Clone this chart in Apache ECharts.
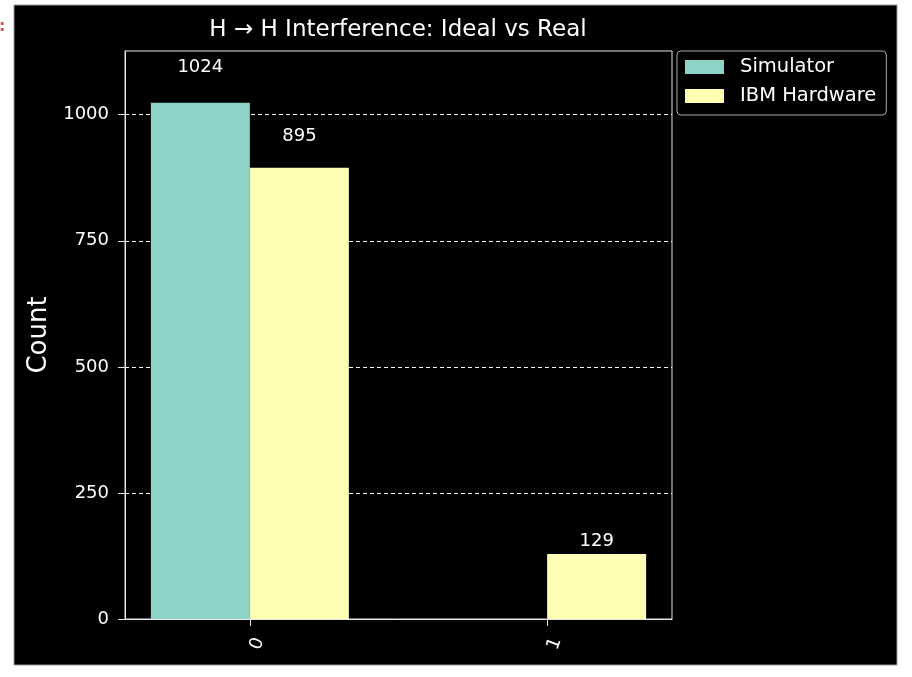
<!DOCTYPE html>
<html>
<head>
<meta charset="utf-8">
<script src="https://cdn.jsdelivr.net/npm/echarts@6/dist/echarts.min.js"></script>
<style>
  html, body { margin: 0; padding: 0; background: #fff; }
  #chart { width: 912px; height: 677px; }
</style>
</head>
<body>
<div id="chart"></div>
<script>
// data
const categories = ['0', '1'];
const simulatorCounts = [1024, null];
const hardwareCounts = [895, 129];
const seriesNames = ['Simulator', 'IBM Hardware'];
const yTicks = [0, 250, 500, 750, 1000];

const FONT = 'DejaVu Sans';
const BAR_W = 1 / 3;     // bar width in category units, like the qiskit histogram

const chart = echarts.init(document.getElementById('chart'));

function toPoints(values) {
    return values.map(function (v, i) { return [i, v]; });
}

// value labels sit at 1.05 * height, above the middle of each bar
function labelPoints(values, shift) {
    const out = [];
    values.forEach(function (v, i) {
        if (v !== null) out.push({ value: [i + shift, v * 1.05], text: String(v) });
    });
    return out;
}

const labelStyle = {
    show: true,
    position: 'top',
    distance: 0,
    color: '#fff',
    opacity: 1,
    fontSize: 18,
    fontFamily: FONT,
    formatter: function (p) { return p.data.text; }
};

const option = {
    backgroundColor: '#fff',
    animation: false,
    textStyle: { fontFamily: FONT },
    graphic: [
        {
            type: 'rect',
            z: -100,
            silent: true,
            shape: { x: 14, y: 5, width: 883, height: 660 },
            style: { fill: '#000', stroke: '#999', lineWidth: 1 }
        },
        {
            type: 'text',
            x: -1,
            y: 19,
            style: { text: ':', fill: '#d9534f', font: 'bold 16px ' + FONT }
        }
    ],
    title: {
        text: 'H \u2192 H Interference: Ideal vs Real',
        left: 398,
        top: 19,
        textAlign: 'center',
        padding: 0,
        textStyle: { color: '#fff', fontSize: 23, fontWeight: 'normal', fontFamily: FONT }
    },
    legend: {
        data: seriesNames,
        orient: 'vertical',
        left: 677,
        top: 51,
        itemWidth: 39,
        itemHeight: 14,
        itemGap: 9,
        padding: [6, 10, 9, 8],
        borderColor: '#aaa',
        borderWidth: 1,
        borderRadius: 4,
        backgroundColor: '#000',
        icon: 'rect',
        textStyle: {
            color: '#fff',
            fontSize: 19.5,
            lineHeight: 20,
            fontFamily: FONT,
            padding: [0, 0, 0, 11]
        }
    },
    grid: {
        left: 125,
        top: 51,
        width: 547,
        height: 568,
        show: true,
        borderColor: '#e6e6e6',
        borderWidth: 1,
        backgroundColor: 'transparent',
        containLabel: false,
        outerBoundsMode: 'none'
    },
    xAxis: {
        type: 'value',
        min: -0.42,
        max: 1.42,
        axisLine: { show: true, onZero: false, lineStyle: { color: '#e6e6e6' } },
        axisTick: { show: true, length: 7, customValues: [0, 1], lineStyle: { color: '#e6e6e6' } },
        splitLine: { show: false },
        axisLabel: {
            customValues: [0, 1],
            rotate: 70,
            margin: 16,
            color: '#fff',
            fontSize: 18,
            fontFamily: FONT,
            formatter: function (v) { return '{t|' + categories[Math.round(v)] + '}'; },
            rich: {
                t: { color: '#fff', fontSize: 18, fontFamily: FONT, padding: [20, 0, 0, 0] }
            }
        }
    },
    yAxis: {
        type: 'value',
        min: 0,
        max: 1126.4,
        name: 'Count',
        nameLocation: 'middle',
        nameRotate: 90,
        nameGap: 70,
        nameTextStyle: { color: '#fff', fontSize: 26, fontFamily: FONT },
        axisLine: { show: true, onZero: false, lineStyle: { color: '#e6e6e6' } },
        axisTick: { show: true, length: 7, customValues: yTicks, lineStyle: { color: '#e6e6e6' } },
        splitLine: {
            show: true,
            lineStyle: { color: '#fff', type: [4, 3], width: 1 }
        },
        axisLabel: {
            customValues: yTicks,
            margin: 16,
            color: '#fff',
            fontSize: 18,
            fontFamily: FONT,
            formatter: function (v) { return String(v); }
        }
    },
    series: [
        {
            name: seriesNames[0],
            type: 'bar',
            barWidth: 99,
            barGap: '0%',
            itemStyle: { color: '#8dd3c7' },
            data: toPoints(simulatorCounts)
        },
        {
            name: seriesNames[1],
            type: 'bar',
            barWidth: 99,
            barGap: '0%',
            itemStyle: { color: '#ffffb3' },
            data: toPoints(hardwareCounts)
        },
        {
            name: 'sim-labels',
            type: 'scatter',
            symbolSize: 0,
            silent: true,
            itemStyle: { opacity: 1 },
            label: labelStyle,
            data: labelPoints(simulatorCounts, -BAR_W / 2)
        },
        {
            name: 'hw-labels',
            type: 'scatter',
            symbolSize: 0,
            silent: true,
            itemStyle: { opacity: 1 },
            label: labelStyle,
            data: labelPoints(hardwareCounts, BAR_W / 2)
        }
    ]
};

chart.setOption(option);
</script>
</body>
</html>
